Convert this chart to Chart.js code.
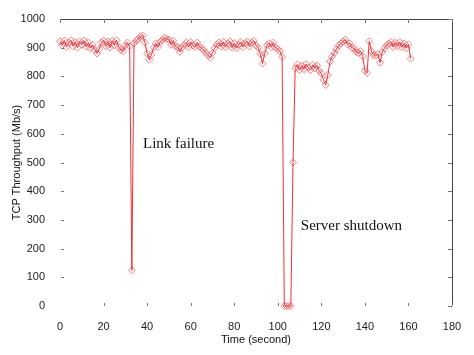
<!DOCTYPE html>
<html><head><meta charset="utf-8">
<script src="https://cdn.jsdelivr.net/npm/chart.js@4/dist/chart.umd.min.js"></script>
<style>html,body{margin:0;padding:0;background:#fff}#wrap{width:474px;height:355px}</style>
</head><body><div id="wrap"><canvas id="c" width="474" height="355"></canvas></div>
<script>
// Throughput samples (Mb/s), one per second unless stated otherwise
const normalStart = 0;
const normalValues = [922,908,925,903,918,926,905,920,900,922,910,925,903,918,898,910,892,880,895,918,925,905,922,900,924,908,926,902,892,888,908,918,905];
const failureTimes = [33];
const failureValues = [125];
const recoveryStart = 34;
const recoveryValues = [915,925,930,940,942,918,880,858,875,900,915,902,920,926,935,930,928,910,925,905,902,885,900,910,918,902,920,908,902,918,904,898,892,882,874,865,882,898,910,918,904,920,902,915,922,900,916,898,910,920,902,916,922,904,918,924,908,900,878,845,880,908,916,902,918,900,895,888,868];
const shutdownTimes = [103,104,105,106,107];
const shutdownValues = [0,0,0,0,500];
const restartStart = 108;
const restartValues = [828,842,822,838,825,843,830,822,840,828,838,820,810,788,770,805,852,870,882,895,908,915,922,928,912,915,900,898,885,882,888,870,820,812,922,888,875,872,878,848,885,898,908,915,920,902,918,905,920,902,915,898,912,862];

const xTitle = 'Time (second)';
const yTitle = 'TCP Throughput (Mb/s)';
const notes = [
  {text:'Link failure', t:38.1, v:550},
  {text:'Server shutdown', t:110.6, v:265}
];

const points = [];
normalValues.forEach((v,i)=>points.push({x:normalStart+i,y:v}));
failureValues.forEach((v,i)=>points.push({x:failureTimes[i],y:v}));
recoveryValues.forEach((v,i)=>points.push({x:recoveryStart+i,y:v}));
shutdownValues.forEach((v,i)=>points.push({x:shutdownTimes[i],y:v}));
restartValues.forEach((v,i)=>points.push({x:restartStart+i,y:v}));

const frame = {
  id:'frame',
  afterDraw(chart){
    const {ctx, chartArea:a, scales:{x,y}} = chart;
    ctx.save();
    ctx.strokeStyle = '#444'; ctx.lineWidth = 1;
    ctx.beginPath();
    ctx.moveTo(a.left, a.top+0.5);
    ctx.lineTo(a.right+0.5, a.top+0.5);
    ctx.lineTo(a.right+0.5, a.bottom);
    ctx.stroke();
    ctx.strokeStyle = '#777';
    ctx.beginPath();
    x.ticks.forEach(t=>{
      const px = Math.round(x.getPixelForValue(t.value))+0.5;
      ctx.moveTo(px, a.top); ctx.lineTo(px, a.top+4);
      if (t.value>0) { ctx.moveTo(px, a.bottom); ctx.lineTo(px, a.bottom-3); }
    });
    y.ticks.forEach(t=>{
      const py = Math.round(y.getPixelForValue(t.value))+0.5;
      ctx.moveTo(a.right, py); ctx.lineTo(a.right-4, py);
      if (t.value>0 && t.value<1000) { ctx.moveTo(a.left+1, py); ctx.lineTo(a.left+4, py); }
    });
    ctx.stroke();
    ctx.fillStyle = '#111';
    ctx.font = '15px "Liberation Serif"';
    ctx.textBaseline = 'alphabetic';
    ctx.textAlign = 'left';
    notes.forEach(n=>ctx.fillText(n.text, x.getPixelForValue(n.t), y.getPixelForValue(n.v)));
    ctx.restore();
  }
};

const tickFont = {family:'"Liberation Sans", Arial, sans-serif', size:11};
new Chart(document.getElementById('c'), {
  type:'scatter',
  data:{datasets:[{
    data:points, showLine:true, clip:false,
    borderColor:'rgba(232,30,36,0.9)', borderWidth:1,
    pointStyle:'rectRot', pointRadius:3.5,
    pointBorderColor:'rgba(240,50,55,0.75)', pointBackgroundColor:'rgba(0,0,0,0)', pointBorderWidth:0.8
  }]},
  options:{
    responsive:false, animation:false, devicePixelRatio:1,
    layout:{padding:{left:6, top:19, right:22, bottom:0}},
    plugins:{legend:{display:false}, tooltip:{enabled:false}},
    scales:{
      x:{type:'linear', min:0, max:180,
        ticks:{stepSize:20, padding:6, color:'#222', font:tickFont, maxRotation:0, callback:v=>String(v)},
        grid:{display:false}, border:{display:false},
        title:{display:true, text:xTitle, color:'#111', font:tickFont, padding:{top:4,bottom:8}},
        afterFit(s){ s.height = 49; }
      },
      y:{min:0, max:1000,
        ticks:{stepSize:100, padding:7, color:'#222', font:tickFont, callback:v=>String(v)},
        grid:{display:false}, border:{display:false},
        title:{display:true, text:yTitle, color:'#111', font:tickFont, padding:{top:4,bottom:4}},
        afterFit(s){ s.width = 54; }
      }
    }
  },
  plugins:[frame]
});
</script>
</body></html>
